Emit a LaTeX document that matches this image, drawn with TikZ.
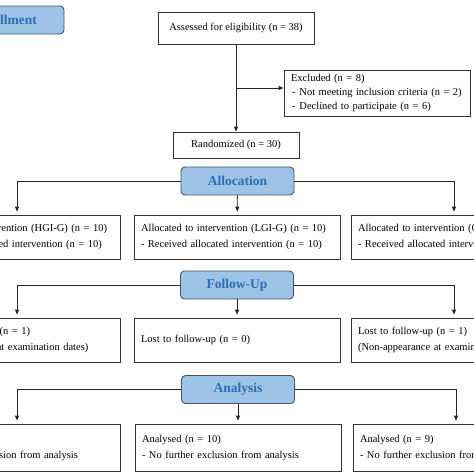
\documentclass[tikz,border=0pt]{standalone}
\usepackage{fontspec}
\setmainfont{Liberation Serif}
\usetikzlibrary{arrows.meta}

\definecolor{headfill}{HTML}{9DC3E6}
\definecolor{headtext}{HTML}{2E6DB0}
\definecolor{headdraw}{HTML}{44546A}

\tikzset{
    plainbox/.style={rectangle,draw=black!80,line width=0.8pt,fill=white,
                     font=\fontsize{10.5}{16}\selectfont,inner xsep=7pt,inner ysep=0pt},
    groupbox/.style={plainbox,text width=192pt,align=left,minimum height=44pt},
    headbox/.style={rectangle,rounded corners=4pt,draw=headdraw,line width=0.9pt,
                    fill=headfill,text=headtext,font=\fontsize{13.5}{16}\selectfont\bfseries,
                    minimum width=113pt,minimum height=28pt}
}

\begin{document}
\begin{tikzpicture}[x=1pt,y=-1pt]
\useasboundingbox (0,0) rectangle (474,474);
\clip (0,0) rectangle (474,474);
\fill[white] (0,0) rectangle (474,474);

\begin{scope}[every node/.style={plainbox}]
    \node[minimum width=156pt,minimum height=32pt] (assess) at (236,28) {Assessed for eligibility (n = 38)};
    \node[text width=172pt,align=left,minimum height=46pt,font=\fontsize{10.5}{14}\selectfont] (excl) at (377,93)
        {Excluded (n = 8)\\ \hspace{1pt}-\hspace{4pt}Not meeting inclusion criteria (n = 2)\\ \hspace{1pt}-\hspace{4pt}Declined to participate (n = 6)};
    \node[minimum width=126pt,minimum height=26pt] (rand) at (236,145) {Randomized (n = 30)};
\end{scope}

% group boxes
\node[groupbox] (alloc1) at (17,237) {Allocated to intervention (HGI-G) (n = 10)\\- Received allocated intervention (n = 10)};
\node[groupbox] (alloc2) at (237,237) {Allocated to intervention (LGI-G) (n = 10)\\- Received allocated intervention (n = 10)};
\node[groupbox] (alloc3) at (454,237) {Allocated to intervention (CG) (n = 10)\\- Received allocated intervention (n = 10)};

\node[groupbox] (follow1) at (17,340) {Lost to follow-up (n = 1)\\(Non-appearance at examination dates)};
\node[groupbox] (follow2) at (237,340) {Lost to follow-up (n = 0)};
\node[groupbox] (follow3) at (454,340) {Lost to follow-up (n = 1)\\(Non-appearance at examination dates)};

\node[groupbox,minimum height=47pt] (anal1) at (17,447.5) {Analysed (n = 9)\\- No further exclusion from analysis};
\node[groupbox,minimum height=47pt] (anal2) at (238,447.5) {Analysed (n = 10)\\- No further exclusion from analysis};
\node[groupbox,minimum height=47pt] (anal3) at (456,447.5) {Analysed (n = 9)\\- No further exclusion from analysis};

% stage headings
\node[headbox,minimum width=120pt] (enroll) at (4,20) {Enrollment};
\node[headbox] (allochead) at (237.5,181) {Allocation};
\node[headbox] (followhead) at (237,285) {Follow-Up};
\node[headbox] (analhead) at (238,389.5) {Analysis};

\coordinate (split) at (236,88);

\begin{scope}[>={Triangle[length=5pt,width=4pt]},line width=0.8pt,draw=black!85]
    \draw [->] (assess) -- (rand);
    \draw [->] (split) -- (split -| excl.west);

    \draw [->,shorten >=3pt] (allochead.west) -| (alloc1.north);
    \draw [->,shorten >=3pt] (allochead) -- (alloc2);
    \draw [->,shorten >=3pt] (allochead.east) -| (alloc3.north);

    \draw [->,shorten >=3pt] (followhead.west) -| (follow1.north);
    \draw [->,shorten >=3pt] (followhead) -- (follow2);
    \draw [->,shorten >=3pt] (followhead.east) -| (follow3.north);

    \draw [->,shorten >=3pt] (analhead.west) -| (anal1.north);
    \draw [->,shorten >=3pt] (analhead) -- (anal2);
    \draw [->,shorten >=3pt] (analhead.east) -| (anal3.north);
\end{scope}

\end{tikzpicture}
\end{document}
